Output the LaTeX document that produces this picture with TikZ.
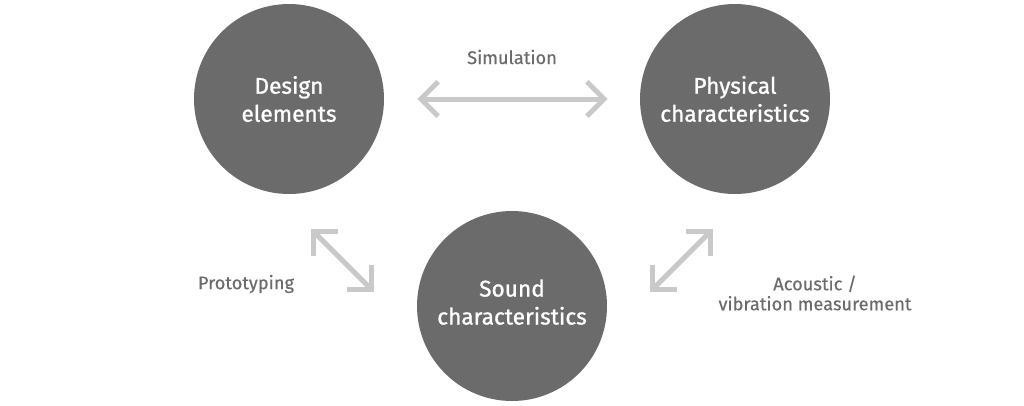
\documentclass[tikz,border=0pt]{standalone}
\usepackage{fontspec}
\setmainfont{Fira Sans}
\newfontfamily\captionfont[FakeBold=0.35]{Fira Sans}
\newfontfamily\discfont[FakeBold=1.1]{Fira Sans}
\usetikzlibrary{arrows.meta}
\definecolor{discgray}{HTML}{6B6B6B}
\definecolor{arrowgray}{HTML}{C9C9C9}
\tikzset{every node/.style={inner sep=0pt, align=center},
  disc/.style={circle, fill=discgray, text=white, minimum size=142.5pt, font=\fontsize{17pt}{21pt}\selectfont\discfont},
  caption/.style={text=discgray, font=\fontsize{13.7pt}{15pt}\selectfont\captionfont},
  biarrow/.style={draw=arrowgray, line width=3.75pt, {Straight Barb[length=13pt,width=26pt,sharp]}-{Straight Barb[length=13pt,width=26pt,sharp]}}}

\begin{document}
\begin{tikzpicture}[x=0.75pt,y=-0.75pt]
  \useasboundingbox (0,0) rectangle (1024,405);
  \node[disc] (design) at (289,99) {Design\\elements};
  \node[disc] (physical) at (735,99) {Physical\\characteristics};
  \node[disc,text depth=6pt] (sound) at (512,306) {Sound\\characteristics};
  \node[caption] (simulation) at (512,57) {Simulation};
  \node[caption] (prototyping) at (246,284) {Prototyping};
  \node[caption] (measurement) at (815,293) {Acoustic /\\vibration measurement};
  \coordinate (dsa) at (311,229); \coordinate (dsb) at (374,292);
  \coordinate (psa) at (713,229); \coordinate (psb) at (650,292);
  \draw[biarrow,shorten <=33*0.75pt,shorten >=32*0.75pt] (design.east) -- (physical.west);
  \draw[biarrow] (dsa) -- (dsb);
  \draw[biarrow] (psa) -- (psb);
\end{tikzpicture}
\end{document}
